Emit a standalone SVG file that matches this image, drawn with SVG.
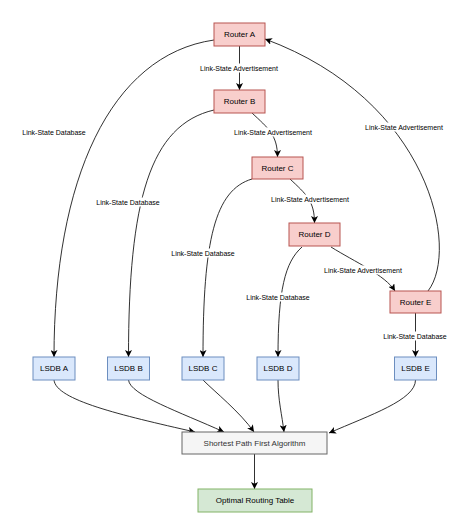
<svg xmlns="http://www.w3.org/2000/svg" width="474" height="531" viewBox="0 0 474 531">
<defs>
<style>
.router rect{fill:#f8cecc;stroke:#b85450;stroke-width:1}
.lsdb rect{fill:#dae8fc;stroke:#6c8ebf;stroke-width:1}
.spf rect{fill:#f5f5f5;stroke:#666666;stroke-width:1}
.opt rect{fill:#d5e8d4;stroke:#82b366;stroke-width:1}
.node text{font-family:"Liberation Sans",Arial,sans-serif;font-size:8px;fill:#000;text-anchor:middle;dominant-baseline:central}
.spf text{fill:#333}
#connectors path{fill:none;stroke:#1a1a1a;stroke-width:0.9;marker-end:url(#arr)}
.lbl rect{fill:#fff}
.lbl text{font-family:"Liberation Sans",Arial,sans-serif;font-size:7px;fill:#000;text-anchor:middle;dominant-baseline:central}
</style>
<marker id="arr" viewBox="0 0 10 10" refX="10" refY="5" markerWidth="7" markerHeight="7" markerUnits="userSpaceOnUse" orient="auto">
<path d="M0,0 L10,5 L0,10 L2.5,5 Z" fill="#000"/>
</marker>
</defs>
<rect width="474" height="531" fill="#fff"/>
<g id="connectors">
<path d="M239.5,46 L239.5,90"/>
<path d="M252,113 C268,128 277.5,135 277.5,157"/>
<path d="M290,179 C306,194 314.5,201 314.5,223"/>
<path d="M331,247 C355,262 385,275 395,291"/>
<path d="M428,291 C460,250 430,100 265,39"/>
<path d="M214,40 C110,55 54,180 54,357"/>
<path d="M214,110 C150,125 128.5,200 128.5,357"/>
<path d="M252,179 C215,190 203,240 203,357"/>
<path d="M302,247 C285,262 278,290 278,357"/>
<path d="M415.5,313 L415.5,357"/>
<path d="M54,380 C56,400 120,415 195,432"/>
<path d="M128.5,380 C130,395 180,412 224,432"/>
<path d="M203,380 C215,392 240,412 254,432"/>
<path d="M278,380 C278,400 282,415 284,432"/>
<path d="M415.5,380 C415.5,400 370,415 329,433"/>
<path d="M254.5,454 L254.5,489"/>
<g class="lbl"><rect x="200" y="63.5" width="78" height="9"/><text x="239" y="68">Link-State Advertisement</text></g>
<g class="lbl"><rect x="234" y="127.5" width="78" height="9"/><text x="273" y="132">Link-State Advertisement</text></g>
<g class="lbl"><rect x="271" y="194.5" width="78" height="9"/><text x="310" y="199">Link-State Advertisement</text></g>
<g class="lbl"><rect x="324" y="265.5" width="78" height="9"/><text x="363" y="270">Link-State Advertisement</text></g>
<g class="lbl"><rect x="365" y="122.5" width="78" height="9"/><text x="404" y="127">Link-State Advertisement</text></g>
<g class="lbl"><rect x="23" y="127.5" width="63" height="9"/><text x="54" y="132">Link-State Database</text></g>
<g class="lbl"><rect x="97" y="197.5" width="63" height="9"/><text x="128" y="202">Link-State Database</text></g>
<g class="lbl"><rect x="172" y="248.5" width="63" height="9"/><text x="203" y="253">Link-State Database</text></g>
<g class="lbl"><rect x="247" y="292.5" width="63" height="9"/><text x="278" y="297">Link-State Database</text></g>
<g class="lbl"><rect x="384" y="331.5" width="63" height="9"/><text x="415" y="336">Link-State Database</text></g>
</g>
<g id="routerA" class="node router"><rect x="214" y="23" width="51" height="23"/><text x="239.5" y="34.5">Router A</text></g>
<g id="routerB" class="node router"><rect x="214" y="90" width="51" height="23"/><text x="239.5" y="101.5">Router B</text></g>
<g id="routerC" class="node router"><rect x="252" y="157" width="51" height="22"/><text x="277.5" y="168">Router C</text></g>
<g id="routerD" class="node router"><rect x="289" y="223" width="51" height="23"/><text x="314.5" y="234.5">Router D</text></g>
<g id="routerE" class="node router"><rect x="390" y="291" width="51" height="22"/><text x="415.5" y="302">Router E</text></g>
<g id="lsdbA" class="node lsdb"><rect x="33" y="357" width="42" height="23"/><text x="54" y="368.5">LSDB A</text></g>
<g id="lsdbB" class="node lsdb"><rect x="107.5" y="357" width="42" height="23"/><text x="128.5" y="368.5">LSDB B</text></g>
<g id="lsdbC" class="node lsdb"><rect x="182" y="357" width="42" height="23"/><text x="203" y="368.5">LSDB C</text></g>
<g id="lsdbD" class="node lsdb"><rect x="257" y="357" width="42" height="23"/><text x="278" y="368.5">LSDB D</text></g>
<g id="lsdbE" class="node lsdb"><rect x="394.5" y="357" width="42" height="23"/><text x="415.5" y="368.5">LSDB E</text></g>
<g id="spf" class="node spf"><rect x="182" y="432" width="145" height="22"/><text x="254.5" y="443">Shortest Path First Algorithm</text></g>
<g id="optimal" class="node opt"><rect x="198" y="489" width="114" height="23"/><text x="255" y="500.5">Optimal Routing Table</text></g>
</svg>
